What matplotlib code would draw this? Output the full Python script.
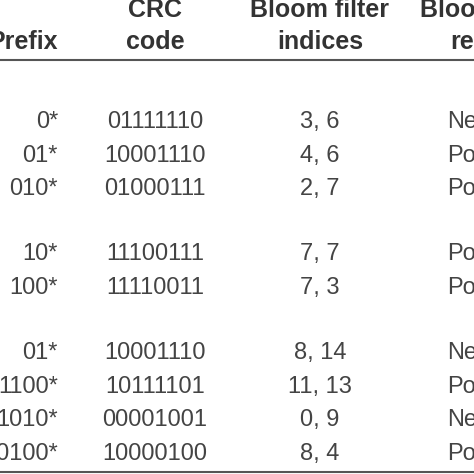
import matplotlib
matplotlib.use("Agg")
import matplotlib.pyplot as plt

prefixes = ["0*", "01*", "010*", "10*", "100*", "01*", "1100*", "1010*", "10100*"]
crc = ["01111110", "10001110", "01000111", "11100111", "11110011", "10001110", "10111101", "00001001", "10000100"]
indices = ["3, 6", "4, 6", "2, 7", "7, 7", "7, 3", "8, 14", "11, 13", "0, 9", "8, 4"]
result = ["Negative", "Positive", "Positive", "Positive", "Positive", "Negative", "Positive", "Negative", "Positive"]
row_y = [122, 156, 189, 254, 288, 353, 387, 420, 454]

W = H = 474
fig = plt.figure(figsize=(4.74, 4.74), dpi=100)
ax = fig.add_axes([0, 0, 1, 1])
ax.set_xlim(0, W); ax.set_ylim(H, 0); ax.axis("off")
col = "#333333"
fam = ["Liberation Sans", "DejaVu Sans"]
hk = dict(fontsize=18, fontweight="bold", color=col, family=fam, va="center")
ax.text(58, 42, "Prefix", ha="right", **hk)
ax.text(155, 10, "CRC", ha="center", **hk)
ax.text(155, 42, "code", ha="center", **hk)
ax.text(320, 10, "Bloom filter", ha="center", **hk)
ax.text(320, 42, "indices", ha="center", **hk)
ax.text(420, 10, "Bloom filter", ha="left", **hk)
ax.text(450, 42, "result", ha="left", **hk)
ax.plot([0, W], [60, 60], color="#555555", lw=1.5)
ax.plot([0, W], [472, 472], color="#555555", lw=1.5)
bk = dict(fontsize=17, color="#444444", family=fam, va="center")
for p, c, i, r, y in zip(prefixes, crc, indices, result, row_y):
    ax.text(58, y, p, ha="right", **bk)
    ax.text(155, y, c, ha="center", **bk)
    ax.text(320, y, i, ha="center", **bk)
    ax.text(447, y, r, ha="left", **bk)
fig.savefig("out.png", dpi=100)
